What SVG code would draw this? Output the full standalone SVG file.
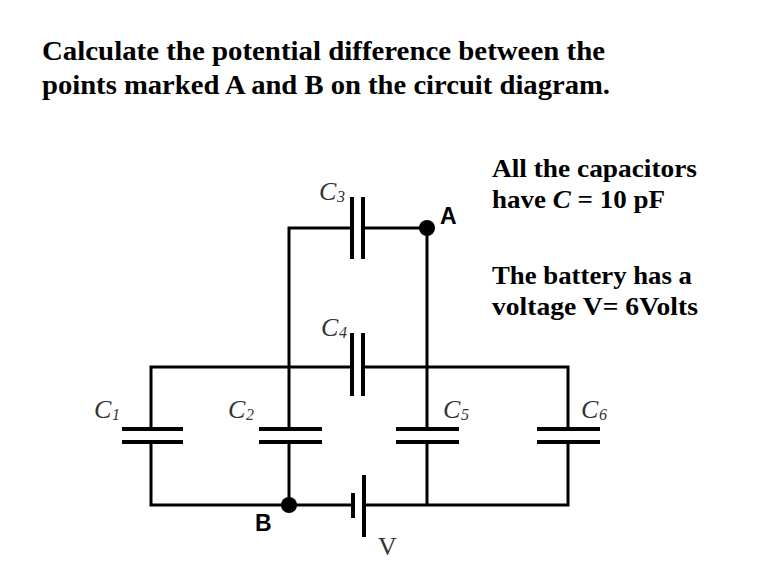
<svg xmlns="http://www.w3.org/2000/svg" width="765" height="569" viewBox="0 0 765 569">
<style>
.w{stroke:#000;stroke-width:3;fill:none}
.p{stroke:#000;stroke-width:4;fill:none}
.t{font-family:"Liberation Serif",serif;font-weight:bold;font-size:27px}
.r{font-family:"Liberation Serif",serif;font-weight:bold;font-size:25px}
.l{font-family:"Liberation Serif",serif;font-style:italic;font-size:26px;fill:#333}
.s{font-family:"Liberation Serif",serif;font-style:italic;font-size:16px;fill:#333}
.n{font-family:"Liberation Sans",sans-serif;font-weight:bold;font-size:23px}
</style>
<rect width="765" height="569" fill="#fff"/>
<text class="t" x="42" y="60" textLength="563" lengthAdjust="spacingAndGlyphs">Calculate the potential difference between the</text>
<text class="t" x="42" y="94" textLength="568" lengthAdjust="spacingAndGlyphs">points marked A and B on the circuit diagram.</text>
<text class="r" x="492" y="177" textLength="205" lengthAdjust="spacingAndGlyphs">All the capacitors</text>
<text class="r" x="492" y="208" textLength="173" lengthAdjust="spacingAndGlyphs">have <tspan font-style="italic">C</tspan> = 10 pF</text>
<text class="r" x="492" y="284" textLength="200" lengthAdjust="spacingAndGlyphs">The battery has a</text>
<text class="r" x="492" y="315" textLength="206" lengthAdjust="spacingAndGlyphs">voltage V= 6Volts</text>
<g id="wires">
<polyline class="w" points="151,429 151,367 568,367 568,429"/>
<polyline class="w" points="151,442 151,505 353,505"/>
<polyline class="w" points="364,505 568,505 568,442"/>
<polyline class="w" points="289,429 289,228 352,228"/>
<line class="w" x1="363" y1="228" x2="427" y2="228"/>
<line class="w" x1="427" y1="228" x2="427" y2="429"/>
<line class="w" x1="427" y1="442" x2="427" y2="505"/>
<line class="w" x1="289" y1="442" x2="289" y2="505"/>
<rect x="353" y="360" width="10" height="14" fill="#fff"/>
</g>
<g id="C1"><line class="p" x1="122" y1="429" x2="183" y2="429"/><line class="p" x1="122" y1="442" x2="183" y2="442"/><text class="l" x="94" y="418">C</text><text class="s" x="112" y="420">1</text></g>
<g id="C2"><line class="p" x1="259" y1="429" x2="322" y2="429"/><line class="p" x1="259" y1="442" x2="322" y2="442"/><text class="l" x="228" y="418">C</text><text class="s" x="246" y="420">2</text></g>
<g id="C5"><line class="p" x1="396" y1="429" x2="459" y2="429"/><line class="p" x1="396" y1="442" x2="459" y2="442"/><text class="l" x="443" y="418">C</text><text class="s" x="461" y="420">5</text></g>
<g id="C6"><line class="p" x1="537" y1="429" x2="600" y2="429"/><line class="p" x1="537" y1="442" x2="600" y2="442"/><text class="l" x="581" y="418">C</text><text class="s" x="599" y="420">6</text></g>
<g id="C3"><line class="p" x1="352" y1="197" x2="352" y2="259"/><line class="p" x1="363" y1="197" x2="363" y2="259"/><text class="l" x="319" y="200">C</text><text class="s" x="337" y="202">3</text></g>
<g id="C4"><line class="p" x1="352" y1="333" x2="352" y2="396"/><line class="p" x1="363" y1="333" x2="363" y2="396"/><text class="l" x="321" y="336">C</text><text class="s" x="339" y="338">4</text></g>
<g id="battery"><line class="p" x1="353" y1="493" x2="353" y2="518"/><line class="p" x1="364" y1="475" x2="364" y2="537"/><text class="l" x="378" y="555" style="font-style:normal">V</text></g>
<g id="A"><circle cx="427" cy="228" r="8"/><text class="n" x="440" y="224">A</text></g>
<g id="B"><circle cx="289" cy="505" r="8"/><text class="n" x="255" y="531">B</text></g>
</svg>
